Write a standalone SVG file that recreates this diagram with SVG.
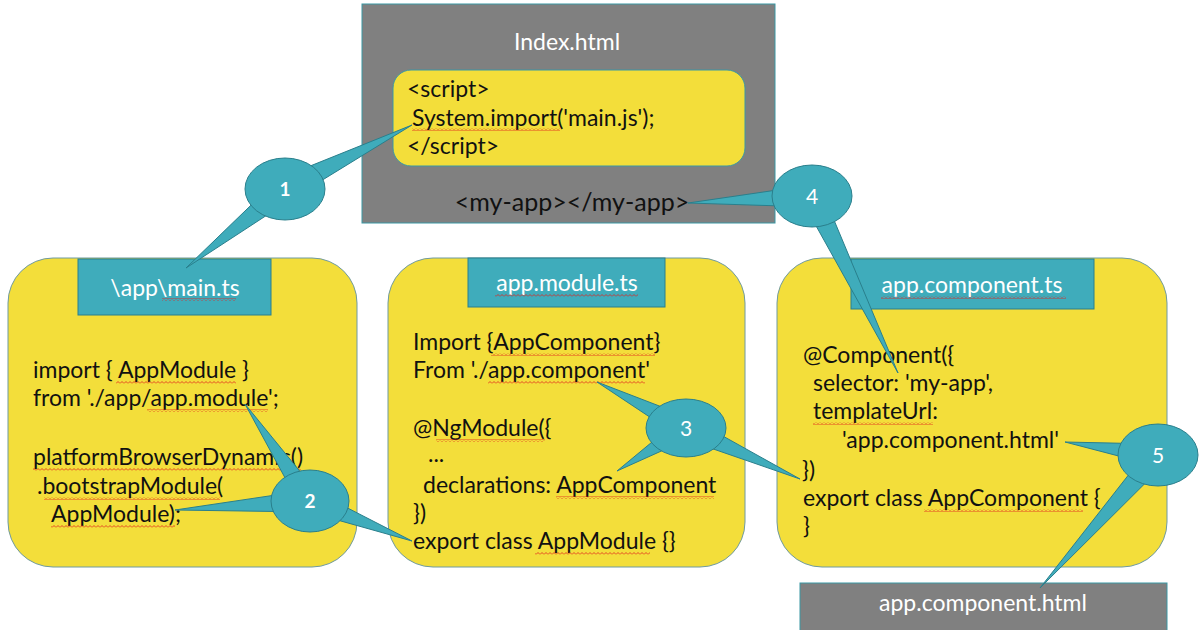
<svg xmlns="http://www.w3.org/2000/svg" width="1200" height="630" viewBox="0 0 1200 630">
<style>
.code{font-family:Lato,"Open Sans","Liberation Sans",sans-serif;font-size:23px;fill:#111}
.white{font-family:Lato,"Open Sans","Liberation Sans",sans-serif;font-size:23px;fill:#fff}
.num{font-family:Lato,"Open Sans","Liberation Sans",sans-serif;font-size:19px;font-weight:bold;fill:#fff;text-anchor:middle}
.ybox{fill:#F3DE3A;stroke:#6f9aa0;stroke-width:1}
.tlabel{fill:#3FACBB;stroke:#2a7f8c;stroke-width:1}
.gbox{fill:#808080;stroke:#3a97a4;stroke-width:1}
.tail{fill:#3FACBB;stroke:#2a7f8c;stroke-width:1;stroke-linejoin:round}
.bubble{fill:#3FACBB;stroke:#2a7f8c;stroke-width:1}
.sq{fill:url(#squig)}
</style>
<defs>
<pattern id="squig" width="4" height="3" patternUnits="userSpaceOnUse">
<path d="M0 2.5 L2 0.5 L4 2.5" fill="none" stroke="#e0201c" stroke-width="0.8"/>
</pattern>
</defs>
<rect width="1200" height="630" fill="#fff"/>

<g id="index-html">
<rect class="gbox" x="362" y="4" width="413" height="219"/>
<text class="white" x="567" y="50" text-anchor="middle">Index.html</text>
<rect x="393" y="70" width="352" height="96" rx="18" fill="#F3DE3A" stroke="#3a97a4" stroke-width="1"/>
<text class="code" x="407" y="97">&lt;script&gt;</text>
<text class="code" x="412" y="126">System.import('main.js');</text>
<rect class="sq" x="412" y="128" width="148" height="3"/>
<text class="code" x="407" y="154">&lt;/script&gt;</text>
<text class="code" x="572" y="211" text-anchor="middle" style="font-size:25px">&lt;my-app&gt;&lt;/my-app&gt;</text>
</g>

<g id="main-ts">
<rect class="ybox" x="8" y="258" width="349" height="309" rx="45"/>
<rect class="tlabel" x="78" y="259" width="193" height="56"/>
<text class="white" x="175" y="296" text-anchor="middle">\app\main.ts</text>
<rect class="sq" x="162" y="298" width="74" height="3"/>
<text class="code" x="33" y="378">import { AppModule }</text>
<rect class="sq" x="116" y="381" width="120" height="3"/>
<text class="code" x="33" y="406">from './app/app.module';</text>
<rect class="sq" x="147" y="409" width="121" height="3"/>
<text class="code" x="33" y="465">platformBrowserDynamic()</text>
<rect class="sq" x="33" y="468" width="268" height="3"/>
<text class="code" x="37" y="494">.bootstrapModule(</text>
<rect class="sq" x="44" y="497" width="176" height="3"/>
<text class="code" x="51" y="522">AppModule);</text>
<rect class="sq" x="51" y="525" width="124" height="3"/>
</g>

<g id="app-module-ts">
<rect class="ybox" x="388" y="258" width="357" height="309" rx="45"/>
<rect class="tlabel" x="468" y="258" width="197" height="49"/>
<text class="white" x="567" y="291" text-anchor="middle">app.module.ts</text>
<rect class="sq" x="495" y="294" width="143" height="3"/>
<text class="code" x="413" y="350">Import {AppComponent}</text>
<rect class="sq" x="491" y="353" width="164" height="3"/>
<text class="code" x="413" y="378">From './app.component'</text>
<rect class="sq" x="488" y="381" width="157" height="3"/>
<text class="code" x="413" y="436">@NgModule({</text>
<rect class="sq" x="436" y="439" width="109" height="3"/>
<text class="code" x="428" y="462">...</text>
<text class="code" x="423" y="493">declarations: AppComponent</text>
<rect class="sq" x="556" y="496" width="158" height="3"/>
<text class="code" x="413" y="521">})</text>
<text class="code" x="413" y="549">export class AppModule {}</text>
<rect class="sq" x="535" y="552" width="115" height="3"/>
</g>

<g id="app-component-ts">
<rect class="ybox" x="777" y="258" width="390" height="309" rx="45"/>
<rect class="tlabel" x="851" y="259" width="243" height="50"/>
<text class="white" x="972" y="293" text-anchor="middle">app.component.ts</text>
<rect class="sq" x="881" y="296" width="185" height="3"/>
<text class="code" x="803" y="363">@Component({</text>
<text class="code" x="813" y="391">selector: 'my-app',</text>
<text class="code" x="813" y="419">templateUrl:</text>
<rect class="sq" x="813" y="422" width="120" height="3"/>
<text class="code" x="842" y="448">'app.component.html'</text>
<text class="code" x="802" y="478">})</text>
<text class="code" x="803" y="506">export class AppComponent {</text>
<rect class="sq" x="924" y="509" width="159" height="3"/>
<text class="code" x="803" y="534">}</text>
</g>

<g id="app-component-html">
<rect class="gbox" x="800" y="583" width="367" height="52"/>
<text class="white" x="983" y="611" text-anchor="middle">app.component.html</text>
</g>

<g id="connectors">
<polygon class="tail" points="412,125 290.4,199.7 279.6,178.3"/>
<polygon class="tail" points="186,268 277.5,179.6 292.5,198.4"/>
<polygon class="tail" points="245,404 319.1,494.9 300.9,507.1"/>
<polygon class="tail" points="175,510 309.3,490 310.7,512"/>
<polygon class="tail" points="412,541 306,511.2 314,490.8"/>
<polygon class="tail" points="597,382 691,418.2 681,437.8"/>
<polygon class="tail" points="617,471 680.2,418.7 691.8,437.3"/>
<polygon class="tail" points="800,479 681.5,438 690.5,418"/>
<polygon class="tail" points="688,203 811.4,185 812.6,207"/>
<polygon class="tail" points="898,373 802.1,200.8 821.9,191.2"/>
<polygon class="tail" points="1065,442 1159.5,444.1 1156.5,465.9"/>
<polygon class="tail" points="1040,588 1149.8,447.7 1166.2,462.3"/>
</g>

<g id="callout-1">
<ellipse class="bubble" cx="285" cy="189" rx="40" ry="31"/>
<text class="num" x="285" y="196">1</text>
</g>
<g id="callout-2">
<ellipse class="bubble" cx="310" cy="501" rx="39" ry="31"/>
<text class="num" x="310" y="508">2</text>
</g>
<g id="callout-3">
<ellipse class="bubble" cx="686" cy="428" rx="40" ry="29"/>
<text class="num" x="686" y="436" style="font-weight:normal;font-size:21px">3</text>
</g>
<g id="callout-4">
<ellipse class="bubble" cx="812" cy="196" rx="40" ry="31"/>
<text class="num" x="812" y="204" style="font-weight:normal;font-size:21px">4</text>
</g>
<g id="callout-5">
<ellipse class="bubble" cx="1158" cy="455" rx="40" ry="31"/>
<text class="num" x="1158" y="463" style="font-weight:normal;font-size:21px">5</text>
</g>
</svg>
